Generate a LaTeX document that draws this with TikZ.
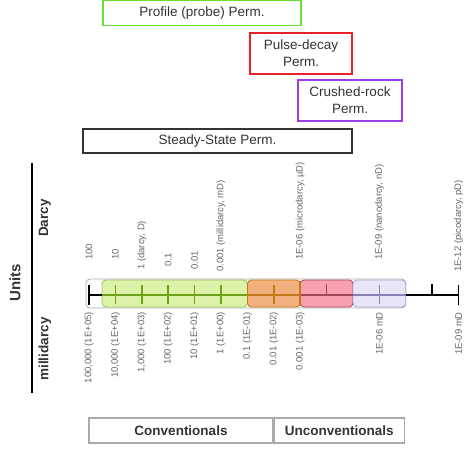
\documentclass[tikz,border=0pt]{standalone}
\usepackage{fontspec}
\setmainfont{Liberation Sans}
\usetikzlibrary{positioning}
\definecolor{txt}{HTML}{333333}
\definecolor{lab}{HTML}{666666}
\definecolor{pgreen}{HTML}{66E033}
\definecolor{pred}{HTML}{E8202A}
\definecolor{ppurple}{HTML}{9B40E6}
\definecolor{cgray}{HTML}{AAAAAA}
\definecolor{gfill}{HTML}{DCF2A8}
\definecolor{gline}{HTML}{6FA01A}
\definecolor{ofill}{HTML}{F2B07E}
\definecolor{oline}{HTML}{C27A18}
\definecolor{rfill}{HTML}{F7A0B0}
\definecolor{rline}{HTML}{A04A58}
\definecolor{vfill}{HTML}{E9E5F6}
\definecolor{vline}{HTML}{8C80BC}
\tikzset{
x=1pt,y=-1pt,
perm/.style={draw,line width=1.6pt,text=txt,align=center,inner sep=0pt,
  font=\fontsize{13.5}{17}\selectfont},
dl/.style={rotate=90,anchor=west,inner sep=0pt,text=lab,font=\fontsize{9.5}{11}\selectfont},
ml/.style={rotate=90,anchor=east,inner sep=0pt,text=lab,font=\fontsize{9.5}{11}\selectfont},
unit/.style={rotate=90,inner sep=0pt,text=txt,font=\bfseries\fontsize{13.5}{15}\selectfont},
cls/.style={draw=cgray,line width=1.3pt,minimum height=25pt,inner sep=0pt,text=txt,
  font=\bfseries\fontsize{13.5}{15}\selectfont},
seg/.style={rounded corners=4pt,line width=0.8pt},
tk/.style={line width=1.7pt},
}
\begin{document}
\begin{tikzpicture}
	\useasboundingbox (0,0) rectangle (474,455);

	\node[perm,draw=pgreen,minimum width=198pt,minimum height=25pt] (profile) at (202,13) {Profile (probe) Perm.};
	\node[perm,draw=pred,minimum width=102pt,minimum height=41pt] (pulse) at (301,53.5) {Pulse-decay\\Perm.};
	\node[perm,draw=ppurple,minimum width=104pt,minimum height=41pt] (crushed) at (350,100.5) {Crushed-rock\\Perm.};
	\node[perm,draw=txt,minimum width=269pt,minimum height=24pt] (steady) at (217.5,141) {Steady-State Perm.};

	\draw[line width=1.3pt] (32,163) -- (32,393);
	\node[unit,font=\bfseries\fontsize{15}{17}\selectfont] (units) at (15,283) {Units};
	\node[unit] (darcy) at (45,218) {Darcy};
	\node[unit] (milli) at (45,349) {millidarcy};

	\draw[seg,draw=cgray,fill=white] (86,279) rectangle (405.8,308);
	\draw[seg,draw=gline!70,fill=gfill] (102,280) rectangle (247.4,307);
	\draw[seg,draw=oline,fill=ofill] (247.4,280) rectangle (300.2,307);
	\draw[seg,draw=rline,fill=rfill] (300.2,280) rectangle (353,307);
	\draw[seg,draw=vline!70,fill=vfill] (353,280) rectangle (405.8,307);

	\draw[tk] (89,295) -- (102,295);
	\draw[tk] (405.8,295) -- (458.6,295);
	\draw[tk,gline] (102,295) -- (247.4,295);
	\draw[tk,oline] (247.4,295) -- (300.2,295);
	\draw[tk,rline] (300.2,295) -- (353,295);
	\draw[tk,vline] (353,295) -- (405.8,295);
	\draw[tk] (89,285) -- (89,305);
	\draw[tk,gline] (115.4,285) -- (115.4,304);
	\draw[tk,gline] (141.8,285) -- (141.8,304);
	\draw[tk,gline] (168.2,285) -- (168.2,304);
	\draw[tk,gline] (194.6,285) -- (194.6,304);
	\draw[tk,gline] (221,285) -- (221,304);
	\draw[tk,oline] (273.8,285) -- (273.8,304);
	\draw[tk,oline] (300.2,281) -- (300.2,306);
	\draw[tk,rline] (326.6,284) -- (326.6,295);
	\draw[tk,vline] (379.4,285) -- (379.4,304);
	\draw[tk] (432.2,284) -- (432.2,295);
	\draw[tk] (458.6,285) -- (458.6,305);

	\node[dl] (d100) at (89,260) {100};
	\node[dl] (d10) at (115.4,260) {10};
	\node[dl] (d1) at (141.8,270) {1 (darcy, D)};
	\node[dl] (d01) at (168.2,267) {0.1};
	\node[dl] (d001) at (194.6,270) {0.01};
	\node[dl] (dmd) at (221,272) {0.001 (millidarcy, mD)};
	\node[dl] (dud) at (300.2,260) {1E-06 (microdarcy, µD)};
	\node[dl] (dnd) at (379.4,260) {1E-09 (nanodarcy, nD)};
	\node[dl] (dpd) at (458.6,272) {1E-12 (picodarcy, pD)};

	\node[ml] (m5) at (89,312) {100,000 (1E+05)};
	\node[ml] (m4) at (115.4,312) {10,000 (1E+04)};
	\node[ml] (m3) at (141.8,312) {1,000 (1E+03)};
	\node[ml] (m2) at (168.2,312) {100 (1E+02)};
	\node[ml] (m1) at (194.6,312) {10 (1E+01)};
	\node[ml] (m0) at (221,312) {1 (1E+00)};
	\node[ml] (mm1) at (247.4,312) {0.1 (1E-01)};
	\node[ml] (mm2) at (273.8,312) {0.01 (1E-02)};
	\node[ml] (mm3) at (300.2,312) {0.001 (1E-03)};
	\node[ml] (mm6) at (379.4,312) {1E-06 mD};
	\node[ml] (mm9) at (458.6,312) {1E-09 mD};

	\node[cls,minimum width=184pt] (conv) at (181,430.5) {Conventionals};
	\node[cls,minimum width=130pt,right=0pt of conv] (unconv) {Unconventionals};
\end{tikzpicture}
\end{document}
